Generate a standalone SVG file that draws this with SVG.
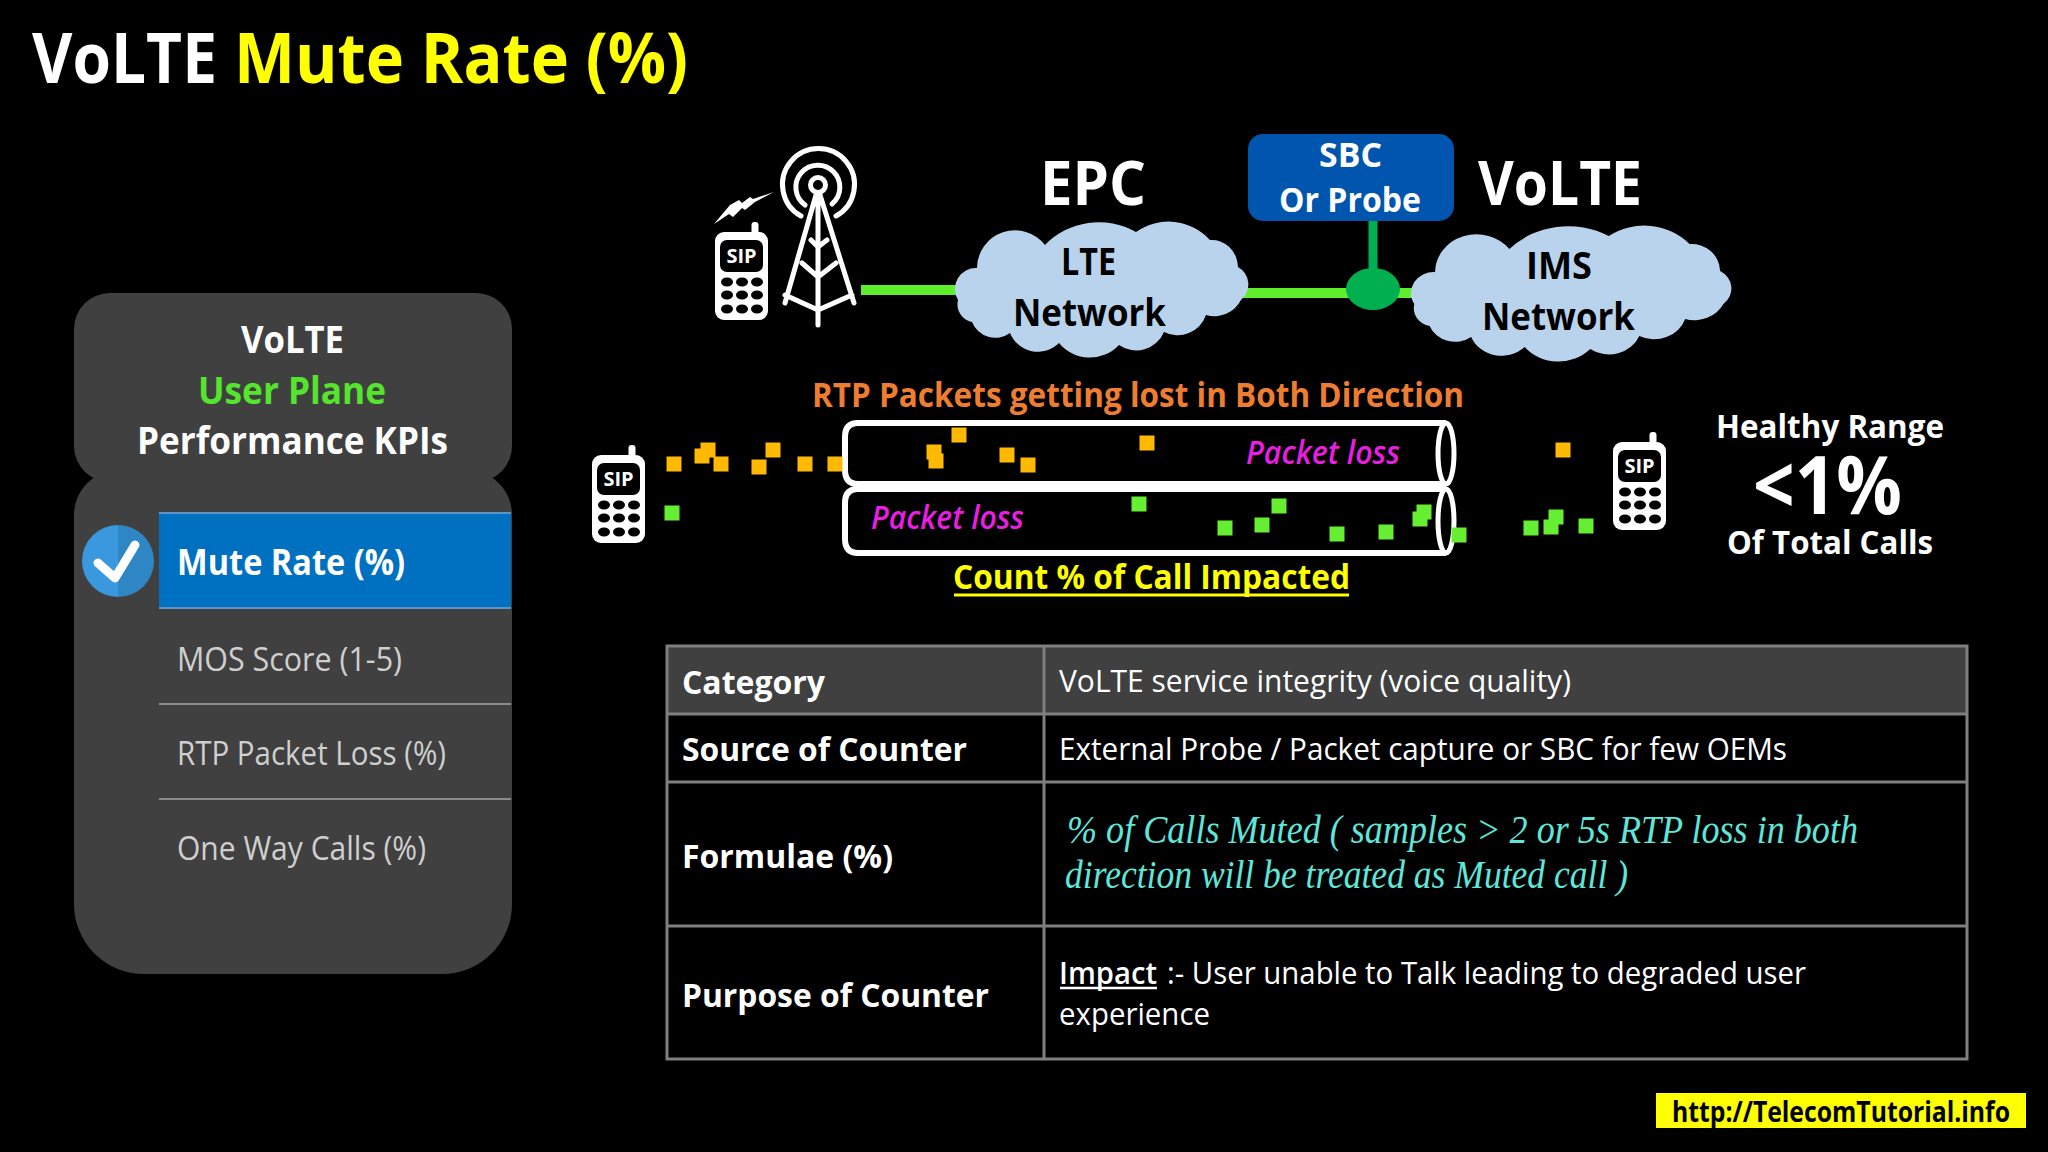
<svg xmlns="http://www.w3.org/2000/svg" xmlns:xlink="http://www.w3.org/1999/xlink" width="2048" height="1152" viewBox="0 0 2048 1152">
<style>
text{font-family:"Open Sans","Liberation Sans",sans-serif}
.b{font-weight:700}.s{font-weight:600}
.w{fill:#fff}.k{fill:#000}.g{fill:#cfcfcf}
.or{fill:#ffb900}.gr{fill:#66ee33}
.pl{fill:#e81fe0;font-style:italic;font-weight:600;font-size:33px}
.f{font-family:"Liberation Serif",serif;font-style:italic;fill:#5fe6da;font-size:41px}
.t{stroke:#7f7f7f;stroke-width:3;fill:none}
.tube{fill:none;stroke:#fff;stroke-width:6}
.link{stroke:#5fee2c;stroke-width:10;fill:none}
.div{stroke:#8c8c8c;stroke-width:2}
</style>
<defs>
<path id="cloud" fill="#bad3ec" d="M977,268A38,38 0 0 1 1045,245A75,75 0 0 1 1136,232A56,56 0 0 1 1210,240A26,28 0 0 1 1238,267A20,20 0 0 1 1241,300A30,30 0 0 1 1206,315A30,30 0 0 1 1164,332A30,30 0 0 1 1119,345A40,40 0 0 1 1059,343A30,30 0 0 1 1010,333A25,25 0 0 1 972,322A18,18 0 0 1 958,300A21,21 0 0 1 977,268Z"/>
<g id="phone">
<rect x="751.500" y="222" width="7" height="14" rx="3" fill="#fff"/>
<rect x="715" y="232" width="53" height="88" rx="9" fill="#fff"/>
<rect x="720" y="240" width="43" height="32" rx="7" fill="#000"/>
<g fill="#000">
<ellipse cx="727" cy="282" rx="6" ry="4.500"/><ellipse cx="742" cy="282" rx="6" ry="4.500"/><ellipse cx="757" cy="282" rx="6" ry="4.500"/>
<ellipse cx="727" cy="295" rx="6" ry="4.500"/><ellipse cx="742" cy="295" rx="6" ry="4.500"/><ellipse cx="757" cy="295" rx="6" ry="4.500"/>
<ellipse cx="727" cy="309" rx="6" ry="4.500"/><ellipse cx="742" cy="309" rx="6" ry="4.500"/><ellipse cx="757" cy="309" rx="6" ry="4.500"/>
</g>
</g>
<rect id="p" x="-7.500" y="-7.500" width="15" height="15"/>
</defs>
<rect width="2048" height="1152" fill="#000"/>

<g id="title">
<text class="b w" x="32" y="83" font-size="69" textLength="185" lengthAdjust="spacingAndGlyphs">VoLTE</text>
<text class="b" fill="#ffff00" x="234" y="83" font-size="69" textLength="454" lengthAdjust="spacingAndGlyphs">Mute Rate (%)</text>
</g>

<g id="kpi-panel">
<path d="M119,470H467A45,45 0 0 1 512,515V904A70,70 0 0 1 442,974H144A70,70 0 0 1 74,904V515A45,45 0 0 1 119,470Z" fill="#404040"/>
<rect x="74" y="293" width="438" height="189" rx="36" fill="#404040"/>
<text class="b w" x="241" y="353" font-size="38" textLength="103" lengthAdjust="spacingAndGlyphs">VoLTE</text>
<text class="b" fill="#55e52d" x="198" y="404" font-size="38" textLength="188" lengthAdjust="spacingAndGlyphs">User Plane</text>
<text class="b w" x="137" y="454" font-size="38" textLength="311" lengthAdjust="spacingAndGlyphs">Performance KPIs</text>
</g>
<g id="kpi-mute">
<rect x="159" y="512" width="352" height="97" fill="#0070c0"/>
<path d="M159,513H511M159,608H511" stroke="#5f94c6" stroke-width="2"/>
<text class="b w" x="177" y="575" font-size="36" textLength="228" lengthAdjust="spacingAndGlyphs">Mute Rate (%)</text>
<path d="M118,525A36,36 0 0 0 118,597Z" fill="#3a98de"/>
<path d="M118,525A36,36 0 0 1 118,597Z" fill="#2e86c4"/>
<path d="M98,563L115,578L135,545" fill="none" stroke="#fff" stroke-width="9" stroke-linecap="round" stroke-linejoin="round"/>
</g>
<g id="kpi-mos"><text class="g" x="177" y="671" font-size="33" textLength="225" lengthAdjust="spacingAndGlyphs">MOS Score (1-5)</text><path class="div" d="M159,704H511"/></g>
<g id="kpi-rtp"><text class="g" x="177" y="765" font-size="33" textLength="269" lengthAdjust="spacingAndGlyphs">RTP Packet Loss (%)</text><path class="div" d="M159,799H511"/></g>
<g id="kpi-oneway"><text class="g" x="177" y="860" font-size="33" textLength="249" lengthAdjust="spacingAndGlyphs">One Way Calls (%)</text></g>

<g id="connectors">
<path class="link" d="M861,290H965"/>
<path class="link" d="M1240,293H1415"/>
<path d="M1373,221V290" stroke="#00b050" stroke-width="9" fill="none"/>
</g>

<g id="phone-top">
<use xlink:href="#phone" href="#phone"/>
<text class="b w" x="741.500" y="263" font-size="20" text-anchor="middle">SIP</text>
<path d="M774,192L753,199L750,197L742,203L739,200L730,205L714,224L729,214L733,217L742,208L745,210L755,202Z" fill="#fff"/>
</g>
<g id="tower" fill="none" stroke="#fff" stroke-width="5" stroke-linecap="round">
<circle cx="818" cy="185" r="7.500"/>
<path d="M805,205A22,22 0 1 1 832,204"/>
<path d="M801,216A36,36 0 1 1 836,216"/>
<path d="M818,193V325M816,195L785,303M820,195L854,303M785,295L818,310L852,295M802,263L818,277L836,263M811,240L818,247L827,240"/>
</g>

<g id="epc-cloud">
<use xlink:href="#cloud" href="#cloud"/>
<text class="b k" x="1061" y="275" font-size="38" textLength="55" lengthAdjust="spacingAndGlyphs">LTE</text>
<text class="b k" x="1013" y="326" font-size="38" textLength="153" lengthAdjust="spacingAndGlyphs">Network</text>
</g>
<g id="ims-cloud">
<use xlink:href="#cloud" href="#cloud" transform="translate(1410,226) scale(1.092,1) translate(-954,-222)"/>
<text class="b k" x="1526" y="279" font-size="38" textLength="66" lengthAdjust="spacingAndGlyphs">IMS</text>
<text class="b k" x="1482" y="330" font-size="38" textLength="153" lengthAdjust="spacingAndGlyphs">Network</text>
</g>
<text id="epc-label" class="b w" x="1040" y="205" font-size="60" textLength="106" lengthAdjust="spacingAndGlyphs">EPC</text>
<text id="volte-label" class="b w" x="1478" y="205" font-size="60" textLength="164" lengthAdjust="spacingAndGlyphs">VoLTE</text>
<g id="sbc">
<rect x="1248" y="134" width="206" height="87" rx="15" fill="#0055ae"/>
<text class="b w" x="1319" y="167" font-size="34" textLength="63" lengthAdjust="spacingAndGlyphs">SBC</text>
<text class="b w" x="1279" y="212" font-size="34" textLength="142" lengthAdjust="spacingAndGlyphs">Or Probe</text>
</g>
<ellipse id="probe-point" cx="1373" cy="289" rx="27" ry="21" fill="#00b050"/>

<text id="rtp-label" class="b" fill="#ed7d31" x="812" y="407" font-size="34" textLength="652" lengthAdjust="spacingAndGlyphs">RTP Packets getting lost in Both Direction</text>

<g id="phone-left">
<use xlink:href="#phone" href="#phone" transform="translate(-123,223)"/>
<text class="b w" x="618.500" y="486" font-size="20" text-anchor="middle">SIP</text>
</g>
<g id="phone-right">
<use xlink:href="#phone" href="#phone" transform="translate(898,210)"/>
<text class="b w" x="1639.500" y="473" font-size="20" text-anchor="middle">SIP</text>
</g>

<g id="tube-upper">
<path class="tube" d="M1446,423H858Q845,423 845,437V470Q845,484 858,484H1446"/>
<ellipse cx="1446" cy="453.500" rx="8" ry="30.500" fill="none" stroke="#fff" stroke-width="5"/>
<text class="pl" x="1246" y="464" textLength="154" lengthAdjust="spacingAndGlyphs">Packet loss</text>
</g>
<g id="tube-lower">
<path class="tube" d="M1446,489H858Q845,489 845,503V539Q845,553 858,553H1446"/>
<ellipse cx="1446" cy="521" rx="8" ry="32" fill="none" stroke="#fff" stroke-width="5"/>
<text class="pl" x="871" y="529" textLength="153" lengthAdjust="spacingAndGlyphs">Packet loss</text>
</g>
<g id="packets-orange" class="or">
<use href="#p" x="674" y="464"/><use href="#p" x="702" y="456"/><use href="#p" x="708" y="450"/><use href="#p" x="721" y="464"/><use href="#p" x="759" y="467"/><use href="#p" x="773" y="450"/><use href="#p" x="805" y="464"/><use href="#p" x="835" y="464"/><use href="#p" x="934" y="452"/><use href="#p" x="936" y="461"/><use href="#p" x="959" y="435"/><use href="#p" x="1007" y="455"/><use href="#p" x="1028" y="465"/><use href="#p" x="1147" y="443"/><use href="#p" x="1563" y="450"/>
</g>
<g id="packets-green" class="gr">
<use href="#p" x="672" y="513"/><use href="#p" x="1139" y="504"/><use href="#p" x="1225" y="528"/><use href="#p" x="1262" y="525"/><use href="#p" x="1279" y="506"/><use href="#p" x="1337" y="534"/><use href="#p" x="1386" y="532"/><use href="#p" x="1420" y="519"/><use href="#p" x="1424" y="512"/><use href="#p" x="1459" y="535"/><use href="#p" x="1531" y="528"/><use href="#p" x="1551" y="527"/><use href="#p" x="1556" y="517"/><use href="#p" x="1586" y="526"/>
</g>
<g id="count-label">
<text class="b" fill="#ffff00" x="953" y="589" font-size="34" textLength="397" lengthAdjust="spacingAndGlyphs">Count % of Call Impacted</text>
<path d="M954,595H1349" stroke="#ffff00" stroke-width="3"/>
</g>
<g id="healthy">
<text class="b w" x="1716" y="438" font-size="33" textLength="228" lengthAdjust="spacingAndGlyphs">Healthy Range</text>
<text class="b w" x="1753" y="514" font-size="80" textLength="149" lengthAdjust="spacingAndGlyphs">&lt;1%</text>
<text class="b w" x="1727" y="554" font-size="33" textLength="206" lengthAdjust="spacingAndGlyphs">Of Total Calls</text>
</g>

<g id="table">
<rect x="667" y="646" width="1300" height="68" fill="#404040"/>
<path class="t" d="M667,646H1967V1059H667ZM1044,646V1059M667,714H1967M667,782H1967M667,926H1967"/>
<text class="b w" x="682" y="694" font-size="32" textLength="143" lengthAdjust="spacingAndGlyphs">Category</text>
<text class="w" x="1059" y="692" font-size="31" textLength="512" lengthAdjust="spacingAndGlyphs">VoLTE service integrity (voice quality)</text>
<text class="b w" x="682" y="761" font-size="32" textLength="285" lengthAdjust="spacingAndGlyphs">Source of Counter</text>
<text class="w" x="1059" y="760" font-size="31" textLength="728" lengthAdjust="spacingAndGlyphs">External Probe / Packet capture or SBC for few OEMs</text>
<text class="b w" x="682" y="868" font-size="32" textLength="211" lengthAdjust="spacingAndGlyphs">Formulae (%)</text>
<text class="f" x="1067" y="843" textLength="791" lengthAdjust="spacingAndGlyphs">% of Calls Muted ( samples &gt; 2 or 5s RTP loss in both</text>
<text class="f" x="1065" y="888" textLength="563" lengthAdjust="spacingAndGlyphs">direction will be treated as Muted call )</text>
<text class="b w" x="682" y="1007" font-size="32" textLength="307" lengthAdjust="spacingAndGlyphs">Purpose of Counter</text>
<text class="s w" x="1059" y="984" font-size="31" textLength="98" lengthAdjust="spacingAndGlyphs">Impact</text>
<path d="M1060,988H1157" stroke="#fff" stroke-width="2.500"/>
<text class="w" x="1167" y="984" font-size="31" textLength="639" lengthAdjust="spacingAndGlyphs">:- User unable to Talk leading to degraded user</text>
<text class="w" x="1059" y="1025" font-size="31" textLength="151" lengthAdjust="spacingAndGlyphs">experience</text>
</g>
<g id="url">
<rect x="1656" y="1093" width="370" height="35" fill="#ffff00"/>
<text class="b k" x="1672" y="1122" font-size="28" textLength="338" lengthAdjust="spacingAndGlyphs">http://TelecomTutorial.info</text>
</g>
</svg>
